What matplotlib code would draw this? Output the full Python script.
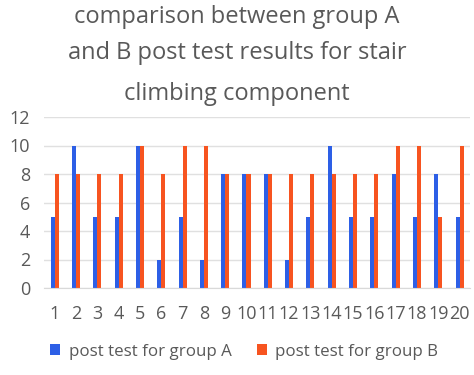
import numpy as np
import matplotlib
matplotlib.use('Agg')
import matplotlib.pyplot as plt

participants = [str(i) for i in range(1, 21)]
group_a = [5, 10, 5, 5, 10, 2, 5, 2, 8, 8, 8, 2, 5, 10, 5, 5, 8, 5, 8, 5]
group_b = [8, 8, 8, 8, 10, 8, 10, 10, 8, 8, 8, 8, 8, 8, 8, 8, 10, 10, 5, 10]
y_ticks = [0, 2, 4, 6, 8, 10, 12]

blue = '#2D5FE6'
orange = '#F75420'
text_col = '#595959'

plt.rcParams['font.family'] = ['Open Sans', 'DejaVu Sans']

fig = plt.figure(figsize=(4.74, 3.75), dpi=100)
ax = fig.add_axes([0.093, 0.232, 0.899, 0.456])

x = np.arange(len(participants))
w = 0.19
ax.bar(x - w / 2, group_a, w, color=blue, label='post test for group A')
ax.bar(x + w / 2, group_b, w, color=orange, label='post test for group B')

ax.set_xlim(-0.5, len(participants) - 0.5)
ax.set_ylim(0, 12)
ax.set_yticks(y_ticks)
ax.set_xticks(x)
ax.set_xticklabels(participants)
ax.grid(axis='y', color='#E0E0E0', linewidth=1)
ax.set_axisbelow(True)
for s in ['top', 'right', 'left']:
    ax.spines[s].set_visible(False)
ax.spines['bottom'].set_color('#D9D9D9')
ax.tick_params(length=0, labelsize=13, colors=text_col)
ax.tick_params(axis='x', pad=12)
ax.tick_params(axis='y', pad=10)

fig.text(0.5, 0.955, 'comparison between group A', ha='center', va='center',
         fontsize=17, color=text_col)
fig.text(0.5, 0.858, 'and B post test results for stair', ha='center', va='center',
         fontsize=17, color=text_col)
fig.text(0.5, 0.748, 'climbing component', ha='center', va='center',
         fontsize=17, color=text_col)

fig.legend(loc='center', bbox_to_anchor=(0.515, 0.062), ncol=2, frameon=False,
           fontsize=12.2, labelcolor=text_col, handlelength=0.6, handleheight=0.6,
           columnspacing=1.5, handletextpad=0.5)

fig.savefig('out.png', dpi=100)
